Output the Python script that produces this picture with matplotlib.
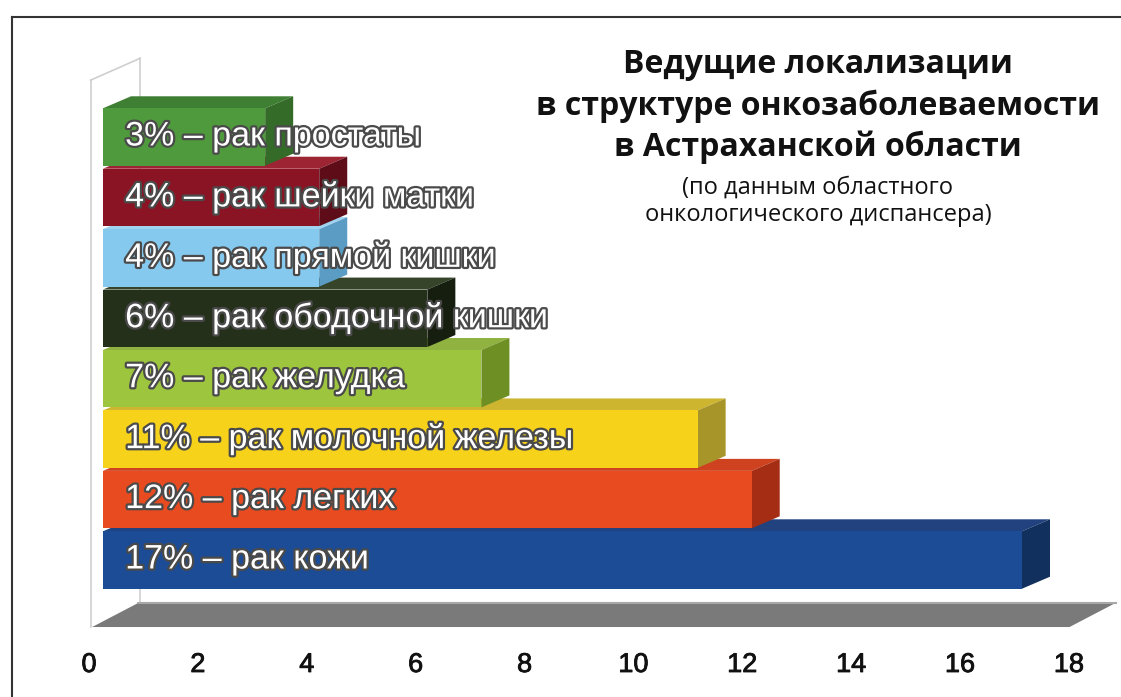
import matplotlib.pyplot as plt
import matplotlib.patheffects as pe
from matplotlib.patches import Polygon
from matplotlib.lines import Line2D

# данные (снизу вверх)
labels = ["17% – рак кожи", "12% – рак легких", "11% – рак молочной железы",
          "7% – рак желудка", "6% – рак ободочной кишки", "4% – рак прямой кишки",
          "4% – рак шейки матки", "3% – рак простаты"]
values = [17, 12, 11, 7, 6, 4, 4, 3]
front_colors = ["#1b4c95", "#e84b1f", "#f6d21b", "#9dc53e",
                "#25301a", "#86c9ee", "#8a1424", "#4f9a3c"]
top_colors = ["#21427e", "#cf4220", "#cdb530", "#8fb240",
              "#36452a", "#9fd3f0", "#9c2433", "#3f7f33"]
side_colors = ["#12305e", "#a52d14", "#a8952a", "#6e8f24",
               "#161e0f", "#5a9cc4", "#5e0d18", "#356b28"]
ticks = [0, 2, 4, 6, 8, 10, 12, 14, 16, 18]

title = "Ведущие локализации\nв структуре онкозаболеваемости\nв Астраханской области"
subtitle = "(по данным областного\nонкологического диспансера)"

W, H = 1121, 697
fig = plt.figure(figsize=(W / 100, H / 100), dpi=100)
fig.patch.set_facecolor("white")

# основная ось: 0 -> 103 px, 17 -> 1022 px
pxu = (1022 - 103) / 17
rowh = 60.43
ax = fig.add_axes([0, 0, 1, 1])
ax.set_xlim(-103 / pxu, (W - 103) / pxu)
ax.set_ylim(-137 / rowh, (H - 137) / rowh)
ax.axis("off")

bh = 0.95
dx, dy = 28 / pxu, 12 / rowh

# пол и стенка
fx0, fx1 = -0.2, 17.88
fyb, fyf = -0.711, -1.109
fsk = 46 / pxu
ax.add_patch(Polygon([(fx0, fyf), (fx1, fyf), (fx1 + fsk, fyb), (fx0 + fsk, fyb)],
                     closed=True, facecolor="#7a7a7a", edgecolor="none", zorder=1))
ax.add_line(Line2D([fx0 + fsk, fx1 + fsk], [fyb, fyb], color="#a8a8a8", lw=1.5, zorder=1.1))
wall_top_f, wall_top_b = 7.94, 8.30
wc = "#cfcfcf"
ax.add_line(Line2D([fx0 - 0.03, fx0 - 0.03], [fyf, wall_top_f], color=wc, lw=1.2, zorder=0))
ax.add_line(Line2D([fx0 + fsk + 0.03, fx0 + fsk + 0.03], [fyb, wall_top_b], color=wc, lw=1.2, zorder=0))
ax.add_line(Line2D([fx0 - 0.03, fx0 + fsk + 0.03], [wall_top_f, wall_top_b], color=wc, lw=1.2, zorder=0))

# бары снизу вверх, чтобы верхний перекрывал верхнюю грань нижнего
for i, (v, fc, tc, sc) in enumerate(zip(values, front_colors, top_colors, side_colors)):
    z = 2 + i * 0.1
    yb, yt = i - bh / 2, i + bh / 2
    ax.add_patch(Polygon([(0, yt), (v, yt), (v + dx, yt + dy), (dx, yt + dy)],
                         closed=True, facecolor=tc, edgecolor="none", zorder=z))
    ax.add_patch(Polygon([(v, yb), (v, yt), (v + dx, yt + dy), (v + dx, yb + dy)],
                         closed=True, facecolor=sc, edgecolor="none", zorder=z))
    ax.barh(i, v, height=bh, left=0, color=fc, edgecolor="none", zorder=z + 0.01)

for i, lab in enumerate(labels):
    t = ax.text(0.41, i, lab, ha="left", va="center", fontsize=24.5,
                family=["Liberation Sans", "DejaVu Sans"], color="white", zorder=10)
    t.set_path_effects([pe.Stroke(linewidth=3.2, foreground="#4a4a4a"), pe.Normal()])

# ось подписей под полом: 0 -> 89 px, 18 -> 1069 px
tpx = (1069 - 89) / 18
ax2 = fig.add_axes([0, (H - 652) / H, 1, 0.001])
ax2.set_xlim(-89 / tpx, (W - 89) / tpx)
ax2.set_xticks(ticks)
ax2.set_xticklabels([str(t) for t in ticks])
ax2.tick_params(axis="x", length=0, labelsize=19.5, pad=0, labelcolor="#111111")
for lbl in ax2.get_xticklabels():
    lbl.set_family(["Liberation Sans", "DejaVu Sans"])
    lbl.set_path_effects([pe.Stroke(linewidth=0.6, foreground="#111111"), pe.Normal()])
ax2.set_yticks([])
for s in ax2.spines.values():
    s.set_visible(False)
ax2.patch.set_alpha(0)

# заголовок
fig.text(818 / W, 1 - 48 / H, title, ha="center", va="top", fontsize=23,
         fontweight="bold", family=["Open Sans", "DejaVu Sans"], linespacing=1.32, color="#111111")
fig.text(818 / W, 1 - 176 / H, subtitle, ha="center", va="top", fontsize=17,
         family=["Open Sans", "DejaVu Sans"], linespacing=1.18, color="#111111")

# рамка
fig.add_artist(Line2D([12 / W, 1], [1 - 17 / H, 1 - 17 / H], transform=fig.transFigure, color="#333333", lw=1.5))
fig.add_artist(Line2D([12 / W, 12 / W], [0, 1 - 17 / H], transform=fig.transFigure, color="#333333", lw=1.5))

fig.savefig("out.png", dpi=100)
